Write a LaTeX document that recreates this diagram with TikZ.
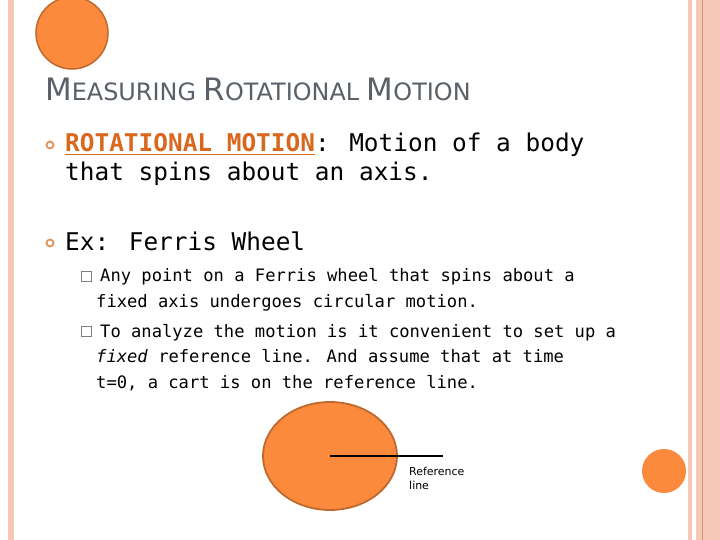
\documentclass[tikz,border=0pt]{standalone}
\usepackage{fontspec}
\usetikzlibrary{shapes.geometric}
\setmainfont{DejaVu Sans}
\newfontfamily\mono{DejaVu Sans Mono}
\definecolor{pinkb}{HTML}{F8C8B6}
\definecolor{orng}{HTML}{FB8A3C}
\definecolor{orline}{HTML}{C0692E}
\definecolor{titlec}{HTML}{5A6068}
\definecolor{bulc}{HTML}{E0925A}
\definecolor{ulc}{HTML}{D9681F}
\begin{document}
\begin{tikzpicture}[x=1bp,y=-1bp,
  txt/.style={anchor=base west,inner sep=0pt,font=\mono\fontsize{24.5}{30}\selectfont},
  stxt/.style={anchor=base west,inner sep=0pt,font=\mono\fontsize{17.2}{25}\selectfont},
  blt/.style={circle,draw=bulc,line width=1.8bp,minimum size=7bp,inner sep=0pt},
  sq/.style={draw=gray,line width=0.6bp,minimum size=10bp,inner sep=0pt}]
\useasboundingbox (0,0) rectangle (720,540);
\fill[white] (0,0) rectangle (720,540);
% borders
\fill[pinkb] (8,0) rectangle (14,540);
\fill[pinkb] (688,0) rectangle (692,540);
\fill[pinkb] (696,0) rectangle (720,540);
\draw[orline!70,line width=0.8bp] (702,0) -- (702,540);
% top circle
\node[circle,fill=orng,draw=orline,line width=1.5bp,minimum size=72bp] (tc) at (72,33) {};
% title
\node[anchor=base west,inner sep=0pt,text=titlec] (title) at (45,101)
 {\fontsize{31}{36}\selectfont M\fontsize{24}{36}\selectfont EASURING \fontsize{31}{36}\selectfont R\fontsize{24}{36}\selectfont OTATIONAL \fontsize{31}{36}\selectfont M\fontsize{24}{36}\selectfont OTION};
% bullets
\node[blt] (b1) at (50,145) {};
\node[txt] (t1) at (65,152) {\textcolor{ulc}{\textbf{\underline{ROTATIONAL MOTION}}}: Motion of a body};
\node[txt] (t1b) at (65,181) {that spins about an axis.};
\node[blt] (b2) at (50,243) {};
\node[txt] (t2) at (65,251) {Ex: Ferris Wheel};
\node[sq] (s1) at (86,276) {};
\node[stxt] (u1) at (100,282) {Any point on a Ferris wheel that spins about a};
\node[stxt] (u1b) at (96,307) {fixed axis undergoes circular motion.};
\node[sq] (s2) at (86,331) {};
\node[stxt] (u2) at (100,337) {To analyze the motion is it convenient to set up a};
\node[stxt] (u2b) at (96,362) {\textit{fixed} reference line. And assume that at time};
\node[stxt] (u2c) at (96,388) {t=0, a cart is on the reference line.};
% ellipse
\node[ellipse,fill=orng,draw=orline,line width=1.8bp,minimum width=134bp,minimum height=108bp] (el) at (330,456) {};
\coordinate (re) at (443,456);
\draw[line width=1.5bp] (el.center) -- (re);
\node[anchor=north west,inner sep=0pt,align=left,font=\fontsize{11}{14}\selectfont] (rl) at (409,467) {Reference\\line};
% bottom right circle
\node[circle,fill=orng,minimum size=44bp,inner sep=0pt] (bc) at (664,471) {};
\end{tikzpicture}
\end{document}
